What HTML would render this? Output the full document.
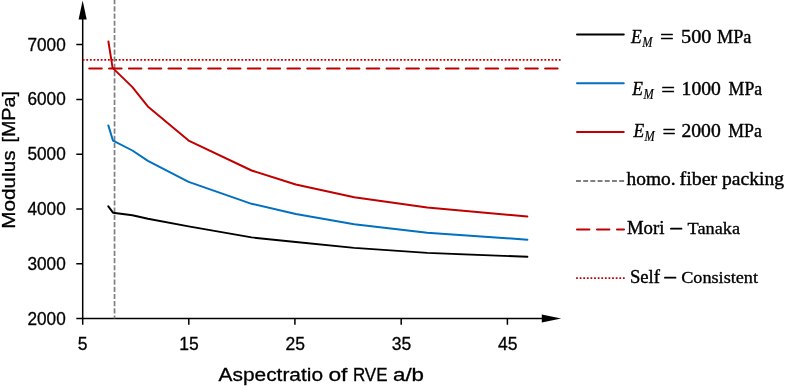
<!DOCTYPE html>
<html>
<head>
<meta charset="utf-8">
<title>Modulus vs. aspect ratio of RVE</title>
<style>
html,body{margin:0;padding:0;background:#fff;}
body{width:785px;height:386px;overflow:hidden;}
svg{display:block;}
.sans{font-family:"Liberation Sans",sans-serif;fill:#000;}
.serif{font-family:"Liberation Serif",serif;fill:#000;stroke:#000;stroke-width:0.4px;stroke-linejoin:round;}
</style>
</head>
<body>
<svg width="785" height="386" viewBox="0 0 785 386">
<rect width="785" height="386" fill="#fff"/>


<!-- axes -->
<g stroke="#000" stroke-width="1.5" fill="none">
<line x1="82.7" y1="18" x2="82.7" y2="324.8"/>
<line x1="76.3" y1="318.5" x2="543" y2="318.5"/>
<path d="M76.3 44.6H82.7M76.3 99.4H82.7M76.3 154.2H82.7M76.3 209H82.7M76.3 263.7H82.7"/>
<path d="M188.8 318.5V324.8M294.9 318.5V324.8M401.2 318.5V324.8M507.4 318.5V324.8"/>
</g>
<polygon points="82.65,0.6 78.6,19.6 86.7,19.6" fill="#000"/>
<polygon points="561.2,318.5 541.8,314.4 541.8,322.6" fill="#000"/>

<!-- analytic models and fiber packing marker -->
<line x1="82.7" y1="59.85" x2="560.8" y2="59.85" stroke="#c00000" stroke-width="1.8" stroke-dasharray="1.8 1.807"/>
<line x1="114.55" y1="-0.9" x2="114.55" y2="318.6" stroke="#7f7f7f" stroke-width="1.7" stroke-dasharray="5.2 1.99"/>
<line x1="89.25" y1="68.45" x2="558" y2="68.45" stroke="#c00000" stroke-width="2.05" stroke-linecap="round" stroke-dasharray="12.5 7.32"/>

<!-- data curves -->
<g fill="none" stroke-width="1.95" stroke-linejoin="round" stroke-linecap="round">
<polyline stroke="#c00000" points="108.4,41.5 112.6,67.9 132.2,86.9 147.8,106.4 188.6,140.6 251.6,170.5 295.8,184.5 354.2,197.3 427.2,207.5 527.4,216.5"/>
<polyline stroke="#0070c0" points="108.3,125.4 113,140.6 132.4,150.5 147.9,160.9 188.6,181.8 251.6,203.8 295.8,214 354.2,224.3 427.2,232.7 527.4,239.7"/>
<polyline stroke="#000" points="108.3,206.3 113,212.7 132.4,215.3 147.9,218.7 188.6,226.4 251.6,237.4 295.8,242 354.2,247.9 427.2,252.9 527.4,256.8"/>
</g>

<!-- tick labels -->
<g class="sans" font-size="17.5" text-anchor="end" stroke="#000" stroke-width="0.3">
<text x="65.7" y="50.6" textLength="38.2" lengthAdjust="spacingAndGlyphs">7000</text>
<text x="65.7" y="105.4" textLength="38.2" lengthAdjust="spacingAndGlyphs">6000</text>
<text x="65.7" y="160.2" textLength="38.2" lengthAdjust="spacingAndGlyphs">5000</text>
<text x="65.7" y="215" textLength="38.2" lengthAdjust="spacingAndGlyphs">4000</text>
<text x="65.7" y="269.7" textLength="38.2" lengthAdjust="spacingAndGlyphs">3000</text>
<text x="65.7" y="324.5" textLength="38.2" lengthAdjust="spacingAndGlyphs">2000</text>
</g>
<g class="sans" font-size="17.5" text-anchor="middle" stroke="#000" stroke-width="0.3">
<text x="82.6" y="349.5">5</text>
<text x="189" y="349.5">15</text>
<text x="295.3" y="349.5">25</text>
<text x="401.6" y="349.5">35</text>
<text x="507.8" y="349.5">45</text>
</g>

<!-- axis titles -->
<g class="sans" font-size="18.7" stroke="#000" stroke-width="0.3">
<text x="218.6" y="381.3" textLength="104.4" lengthAdjust="spacingAndGlyphs">Aspectratio</text>
<text x="328.4" y="381.3" textLength="19" lengthAdjust="spacingAndGlyphs">of</text>
<text x="352.9" y="381.3" textLength="34.6" lengthAdjust="spacingAndGlyphs">RVE</text>
<text x="393" y="381.3" textLength="31" lengthAdjust="spacingAndGlyphs">a/b</text>
<g transform="translate(15.3 228.8) rotate(-90)">
<text x="0" y="0" textLength="78.4" lengthAdjust="spacingAndGlyphs">Modulus</text>
<text x="86.2" y="0" textLength="51.6" lengthAdjust="spacingAndGlyphs">[MPa]</text>
</g>
</g>

<!-- legend samples -->
<g fill="none" stroke-width="2.2">
<line x1="577" y1="34.45" x2="623.8" y2="34.45" stroke="#000" stroke-width="1.95" stroke-linecap="round"/>
<line x1="577" y1="83.15" x2="623.8" y2="83.15" stroke="#0070c0" stroke-width="1.95" stroke-linecap="round"/>
<line x1="577" y1="132.05" x2="623.8" y2="132.05" stroke="#c00000" stroke-width="1.95" stroke-linecap="round"/>
<line x1="576" y1="181.05" x2="625" y2="181.05" stroke="#7f7f7f" stroke-width="1.9" stroke-dasharray="4.9 2.3"/>
<line x1="577" y1="229.55" x2="624" y2="229.55" stroke="#c00000" stroke-width="2.05" stroke-linecap="round" stroke-dasharray="12.4 7.6"/>
<line x1="576.1" y1="278.05" x2="624.8" y2="278.05" stroke="#c00000" stroke-width="1.75" stroke-dasharray="1.75 1.854"/>
</g>

<!-- legend labels -->
<g class="serif" font-size="19">
<text x="631.1" y="42.7" font-style="italic" textLength="10.7" lengthAdjust="spacingAndGlyphs">E</text>
<text x="642.2" y="46.8" font-style="italic" font-size="14.2" stroke-width="0.2" textLength="10.2" lengthAdjust="spacingAndGlyphs">M</text>
<text x="660" y="43.2" textLength="13.8" lengthAdjust="spacingAndGlyphs">=</text>
<text x="681" y="42.7" textLength="30.4" lengthAdjust="spacingAndGlyphs">500</text>
<text x="717" y="42.7" textLength="34.4" lengthAdjust="spacingAndGlyphs">MPa</text>

<text x="632.3" y="94.8" font-style="italic" textLength="10.7" lengthAdjust="spacingAndGlyphs">E</text>
<text x="643.4" y="98.8" font-style="italic" font-size="14.2" stroke-width="0.2" textLength="10.2" lengthAdjust="spacingAndGlyphs">M</text>
<text x="661.2" y="95.8" textLength="13.8" lengthAdjust="spacingAndGlyphs">=</text>
<text x="681.6" y="94.8" textLength="39.2" lengthAdjust="spacingAndGlyphs">1000</text>
<text x="728.6" y="94.8" textLength="33.6" lengthAdjust="spacingAndGlyphs">MPa</text>

<text x="633.5" y="136.7" font-style="italic" textLength="10.7" lengthAdjust="spacingAndGlyphs">E</text>
<text x="644.6" y="140.7" font-style="italic" font-size="14.2" stroke-width="0.2" textLength="10.2" lengthAdjust="spacingAndGlyphs">M</text>
<text x="662.5" y="138.1" textLength="13.2" lengthAdjust="spacingAndGlyphs">=</text>
<text x="681.5" y="136.7" textLength="39.2" lengthAdjust="spacingAndGlyphs" textLength="38.2" lengthAdjust="spacingAndGlyphs">2000</text>
<text x="728.2" y="136.7" textLength="33.6" lengthAdjust="spacingAndGlyphs">MPa</text>
</g>
<g class="serif" font-size="19">
<text x="626.6" y="184.8" textLength="49" lengthAdjust="spacingAndGlyphs">homo.</text>
<text x="679.6" y="184.8" textLength="37.6" lengthAdjust="spacingAndGlyphs">fiber</text>
<text x="722" y="184.8" textLength="62" lengthAdjust="spacingAndGlyphs">packing</text>

<text x="627" y="233.7" font-size="18.4" textLength="37.4" lengthAdjust="spacingAndGlyphs">Mori</text>
<text x="669.6" y="234.5" font-size="18.4" stroke-width="0.9" textLength="13.4" lengthAdjust="spacingAndGlyphs">−</text>
<text x="687.6" y="233.6" font-size="16" stroke-width="0.3" textLength="52.4" lengthAdjust="spacingAndGlyphs">Tanaka</text>

<text x="630" y="283" font-size="18.4" textLength="30" lengthAdjust="spacingAndGlyphs">Self</text>
<text x="663.4" y="283.9" font-size="18.4" stroke-width="0.9" textLength="13.4" lengthAdjust="spacingAndGlyphs">−</text>
<text x="681.2" y="283" font-size="16" stroke-width="0.3" textLength="76.8" lengthAdjust="spacingAndGlyphs">Consistent</text>
</g>
</svg>
</body>
</html>
